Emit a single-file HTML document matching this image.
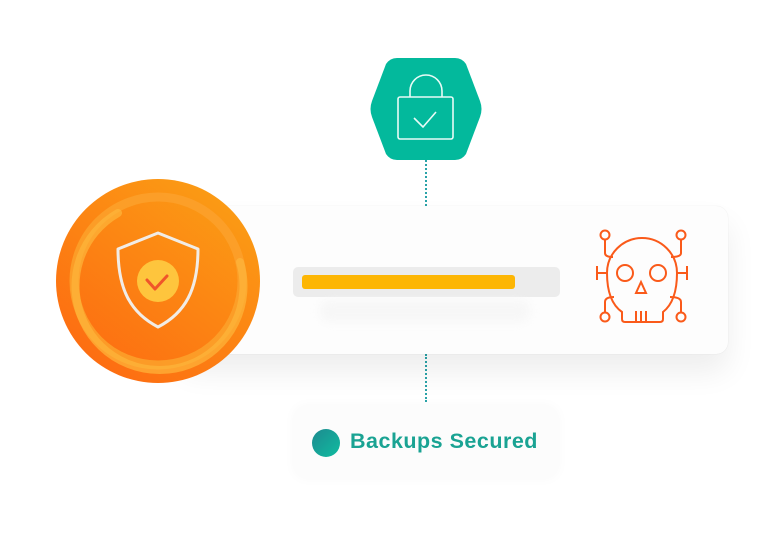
<!DOCTYPE html>
<html><head><meta charset="utf-8"><style>
html,body{margin:0;padding:0;background:#fff;}
body{width:768px;height:542px;position:relative;overflow:hidden;font-family:"Liberation Sans",sans-serif;}
.card{position:absolute;left:180px;top:206px;width:548px;height:148px;background:#fdfdfd;border-radius:12px;box-shadow:0 18px 30px rgba(0,0,0,0.07),0 0 1px rgba(0,0,0,0.12);}
.pill{position:absolute;left:294px;top:406px;width:264px;height:72px;border-radius:12px;background:#fcfcfc;box-shadow:0 0 12px rgba(0,0,0,0.03);}
.dash{position:absolute;left:425px;width:0;border-left:2px dotted #2aa3a8;}
.txt{position:absolute;left:350px;top:429px;font-size:21.5px;font-weight:bold;color:#1aa393;letter-spacing:0.5px;}
</style></head><body>
<div class="dash" style="top:160px;height:46px"></div>
<div class="dash" style="top:354px;height:48px"></div>
<div class="card"></div>
<div style="position:absolute;left:293px;top:267px;width:267px;height:30px;background:#ececec;border-radius:5px;"></div>
<div style="position:absolute;left:320px;top:300px;width:210px;height:22px;background:#f7f7f7;border-radius:10px;filter:blur(4px)"></div>
<div style="position:absolute;left:302px;top:275px;width:213px;height:14px;background:#fdb604;border-radius:3px;"></div>
<div class="pill"></div>
<div style="position:absolute;left:312px;top:429px;width:28px;height:28px;border-radius:50%;background:linear-gradient(135deg,#1d8a8f,#10bca0);"></div>
<div class="txt">Backups Secured</div>
<svg width="768" height="542" style="position:absolute;left:0;top:0">
<defs>
<linearGradient id="og" x1="0.8" y1="0.1" x2="0.2" y2="0.9">
<stop offset="0" stop-color="#fb9a14"/><stop offset="1" stop-color="#fd6e12"/></linearGradient>
</defs>
<circle cx="158" cy="281" r="102" fill="url(#og)"/>
<circle cx="158" cy="281" r="84" fill="none" stroke="#fca02a" stroke-width="9" opacity="0.9"/>
<path d="M118 213 A84 84 0 1 0 240 262" fill="none" stroke="#fdb63c" stroke-width="8" stroke-linecap="round" opacity="0.7"/>
<path d="M158 233 L198 249 C198 290 185 313 158 327 C131 313 118 290 118 249 Z" fill="none" stroke="#f1ece6" stroke-width="3" stroke-linejoin="round"/>
<circle cx="158" cy="281" r="21" fill="#fec53d"/>
<path d="M147 280 L155 289 L167 276" fill="none" stroke="#f0552a" stroke-width="3" stroke-linecap="round" stroke-linejoin="round"/>
<path d="M397 58 L455 58 Q462 58 466 64 L480 101 Q483 109 480 117 L466 154 Q462 160 455 160 L397 160 Q390 160 386 154 L372 117 Q369 109 372 101 L386 64 Q390 58 397 58 Z" fill="#03b99c"/>
<path d="M410 97 V91 A16 16 0 0 1 442 91 V97" fill="none" stroke="#e8fbf6" stroke-width="1.6"/>
<rect x="398" y="97" width="55" height="42" rx="2" fill="none" stroke="#e8fbf6" stroke-width="1.6"/>
<path d="M414 118 L423 127 L436 112" fill="none" stroke="#e8fbf6" stroke-width="1.6"/>
<g fill="none" stroke="#fa5a1a" stroke-width="2">
<path d="M622 312 C612 305 607 292 607 273 A35 35 0 0 1 677 273 C677 292 672 305 663 312 V319 Q663 322 660 322 H625 Q622 322 622 319 Z"/>
<circle cx="625" cy="273" r="8"/><circle cx="658" cy="273" r="8"/>
<path d="M641 282 L636 293 L646 293 Z"/>
<path d="M636 322 V311 M641 322 V311 M646 322 V311"/>
<circle cx="605" cy="235" r="4.5"/><circle cx="681" cy="235" r="4.5"/>
<circle cx="605" cy="317" r="4.5"/><circle cx="681" cy="317" r="4.5"/>
<path d="M605 240 V253 Q605 257 613 257"/><path d="M681 240 V253 Q681 257 671 257"/>
<path d="M605 312 V302 Q605 297 614 297"/><path d="M681 312 V302 Q681 297 670 297"/>
<path d="M597 266 V280 M597 273 H607"/><path d="M687 266 V280 M687 273 H677"/>
</g>
</svg>
</body></html>
